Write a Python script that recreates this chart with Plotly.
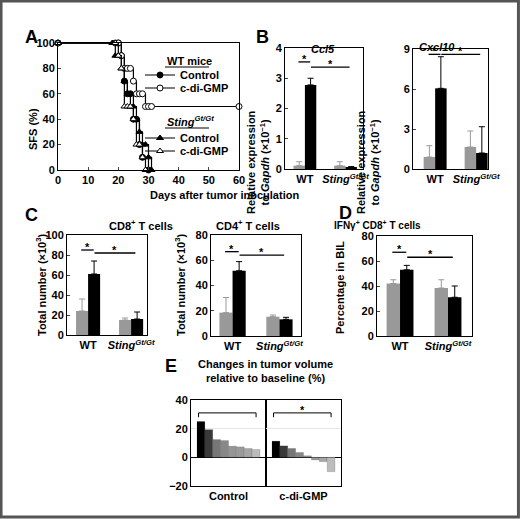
import plotly.graph_objects as go

W, H = 520, 519

# ---------------------------------------------------------------
# Data

# Panel A: survival (SFS %) per day after tumor inoculation
wt_ctrl_day = [0, 20, 21, 22, 23, 24, 25, 26, 27, 28, 30]
wt_ctrl_sfs = [100, 100, 90, 70, 60, 60, 40, 40, 20, 10, 0]
wt_cdg_day = [0, 19, 20, 21, 22, 23, 24, 25, 26, 27, 28, 29, 30, 31, 60]
wt_cdg_sfs = [100, 100, 100, 90, 80, 80, 80, 70, 60, 60, 60, 50, 50, 50, 50]
sting_ctrl_day = [0, 18, 19, 20, 21, 22, 23, 24, 25, 26, 27, 28, 29, 30, 31]
sting_ctrl_sfs = [100, 100, 90, 90, 80, 70, 60, 50, 50, 40, 30, 20, 20, 10, 0]
sting_cdg_day = [0, 19, 20, 21, 22, 23, 24, 25, 26, 27, 28, 29]
sting_cdg_sfs = [100, 100, 90, 80, 50, 50, 50, 40, 20, 20, 10, 0]

groups = ["WT", "Sting"]
group_labels = ["WT", "<i>Sting</i><sup><i>Gt/Gt</i></sup>"]

# Panel B
ccl5_ctrl = [0.11, 0.11]
ccl5_ctrl_err = [0.13, 0.13]
ccl5_cdg = [2.78, 0.055]
ccl5_cdg_err = [0.22, 0.025]
cxcl10_ctrl = [0.9, 1.65]
cxcl10_ctrl_err = [0.85, 1.2]
cxcl10_cdg = [6.05, 1.2]
cxcl10_cdg_err = [2.37, 1.97]

# Panel C
cd8_ctrl = [24, 15]
cd8_ctrl_err = [12, 2]
cd8_cdg = [61, 16]
cd8_cdg_err = [13, 7]
cd4_ctrl = [18.5, 15.3]
cd4_ctrl_err = [12, 1.3]
cd4_cdg = [51.7, 13.2]
cd4_cdg_err = [7.2, 1.6]

# Panel D
ifng_ctrl = [42, 38.4]
ifng_ctrl_err = [3, 6.6]
ifng_cdg = [53, 31]
ifng_cdg_err = [3.5, 9]

# significance bar heights (short bar, long bar) per panel
sig_ccl5 = [3.54, 3.37]
sig_cxcl10 = [8.6, 8.6]
sig_cd8 = [85, 82]
sig_cd4 = [66.8, 64]
sig_ifng = [67, 63]

# Panel E: change in tumor volume (%)
vol_ctrl = [25, 19.3, 12.4, 11.7, 7.8, 7.3, 6.2, 5.5]
vol_cdg = [11.3, 8, 6.2, 3.4, 1.1, -1.8, -3, -10]
vol_colors = ["#000000", "#3a3a3a", "#777777", "#888888",
              "#959595", "#9a9a9a", "#a6a6a6", "#bcbcbc"]
vol_bracket = 31

GRAY = "#999999"
FONT = "Liberation Sans"


def dom_x(left, right):
    return [left / W, right / W]


def dom_y(top, bottom):
    return [1 - bottom / H, 1 - top / H]


def ann(px, py, text, size=11, angle=0, **kw):
    return dict(x=px / W, y=1 - py / H, xref="paper", yref="paper",
                text=text, showarrow=False, textangle=angle,
                font=dict(size=size), **kw)


fig = go.Figure()

# ---------------------------------------------------------------
# Panel A
surv = [
    (wt_ctrl_day, wt_ctrl_sfs, "circle", "black", "Control", "legend", 75),
    (wt_cdg_day, wt_cdg_sfs, "circle", "white", "c-di-GMP", "legend2", 88),
    (sting_ctrl_day, sting_ctrl_sfs, "triangle-up", "black", "Control", "legend3", 138),
    (sting_cdg_day, sting_cdg_sfs, "triangle-up", "white", "c-di-GMP", "legend4", 151),
]
legends = {}
for days, sfs, sym, fill, name, leg, ly in surv:
    fig.add_trace(go.Scatter(
        x=days, y=sfs, mode="lines+markers", line_shape="hv",
        line=dict(color="black", width=1.2),
        marker=dict(symbol=sym, size=6, color=fill,
                    line=dict(color="black", width=1)),
        name=name, legend=leg, cliponaxis=False,
        xaxis="x", yaxis="y"))
    legends[leg] = dict(x=140 / W, y=1 - ly / H, xanchor="left", yanchor="middle",
                        bgcolor="rgba(0,0,0,0)", itemwidth=30,
                        font=dict(size=11), borderwidth=0)


# ---------------------------------------------------------------
# Bar panels B, C, D
def bar_pair(ctrl, ctrl_err, cdg, cdg_err, n):
    for vals, err, col in [(ctrl, ctrl_err, GRAY), (cdg, cdg_err, "black")]:
        fig.add_trace(go.Bar(
            x=groups, y=vals, marker=dict(color=col, line=dict(width=0)),
            error_y=dict(type="data", array=err, arrayminus=[0] * len(err),
                         symmetric=False, color=col, thickness=1, width=3),
            showlegend=False, xaxis="x%d" % n, yaxis="y%d" % n))


bar_pair(ccl5_ctrl, ccl5_ctrl_err, ccl5_cdg, ccl5_cdg_err, 2)
bar_pair(cxcl10_ctrl, cxcl10_ctrl_err, cxcl10_cdg, cxcl10_cdg_err, 3)
bar_pair(cd8_ctrl, cd8_ctrl_err, cd8_cdg, cd8_cdg_err, 4)
bar_pair(cd4_ctrl, cd4_ctrl_err, cd4_cdg, cd4_cdg_err, 5)
bar_pair(ifng_ctrl, ifng_ctrl_err, ifng_cdg, ifng_cdg_err, 6)

# Panel E
for vals, n in [(vol_ctrl, 7), (vol_cdg, 8)]:
    fig.add_trace(go.Bar(
        x=list(range(len(vals))), y=vals, width=1,
        marker=dict(color=vol_colors, line=dict(color="rgba(0,0,0,0.25)", width=0.5)),
        showlegend=False, xaxis="x%d" % n, yaxis="y%d" % n))

shapes = []
annotations = []

# significance lines + stars
for n, sig in [(2, sig_ccl5), (3, sig_cxcl10), (4, sig_cd8), (5, sig_cd4), (6, sig_ifng)]:
    for (x0, x1), yv in zip([(-0.16, 0.13), (0.15, 1.1)], sig):
        shapes.append(dict(type="line", xref="x%d" % n, yref="y%d" % n,
                           x0=x0, x1=x1, y0=yv, y1=yv,
                           line=dict(color="black", width=1.3)))
        annotations.append(dict(x=(x0 + x1) / 2, y=yv, xref="x%d" % n, yref="y%d" % n,
                                text="*", showarrow=False, yanchor="bottom",
                                yshift=-5, font=dict(size=11)))

# brackets in panel E
for n, star in [(7, False), (8, True)]:
    xr, yr = "x%d" % n, "y%d" % n
    shapes.append(dict(type="path", xref=xr, yref=yr,
                       path="M -0.3,%g L -0.3,%g L 7.0,%g L 7.0,%g" % (
                           vol_bracket - 3, vol_bracket, vol_bracket, vol_bracket - 3),
                       line=dict(color="black", width=1)))
    if star:
        annotations.append(dict(x=3.35, y=vol_bracket, xref=xr, yref=yr, text="*",
                                showarrow=False, yanchor="bottom", yshift=-5,
                                font=dict(size=11)))

# legend group headings with underline (bottom of text box just under the line)
for px, uy, w, text in [(165, 67, 44, "WT mice"),
                        (165, 128, 44, "<i>Sting</i><sup><i>Gt/Gt</i></sup>")]:
    annotations.append(ann(px, uy + 2, text, 11, xanchor="left", yanchor="bottom"))
    shapes.append(dict(type="line", xref="paper", yref="paper",
                       x0=px / W, x1=(px + w) / W, y0=1 - uy / H, y1=1 - uy / H,
                       line=dict(color="black", width=1)))

# outer frame
shapes.append(dict(type="rect", xref="paper", yref="paper", x0=0.002, x1=0.997,
                   y0=0.004, y1=0.998, line=dict(color="#555555", width=3)))

# panel letters
for px, py, t in [(23, 25, "A"), (262, 25, "B"), (23, 215, "C"),
                  (345, 213, "D"), (163, 378, "E")]:
    annotations.append(ann(px, py, t, size=18))

# titles
annotations += [
    ann(323, 41, "<i>Ccl5</i>", 11),
    ann(457, 39, "<i>Cxcl10</i>", 11),
    ann(107, 225, "CD8<sup>+</sup> T cells", 11),
    ann(248, 225, "CD4<sup>+</sup> T cells", 11),
    ann(423, 225, "IFNγ<sup>+</sup> CD8<sup>+</sup> T cells", 10),
    ann(265, 386, "Changes in tumor volume<br>relative to baseline (%)", 11),
]

# axis titles
annotations += [
    ann(148, 195, "Days after tumor inoculation", 11),
    ann(25, 106, "SFS (%)", 11, -90),
    ann(258, 108, "Relative expression<br>to <i>Gapdh</i> (×10<sup>−1</sup>)", 11, -90),
    ann(383, 108, "Relative expression<br>to <i>Gapdh</i> (×10<sup>−1</sup>)", 11, -90),
    ann(32, 285, "Total number (×10<sup>3</sup>)", 11, -90),
    ann(180, 285, "Total number (×10<sup>3</sup>)", 11, -90),
    ann(348, 288, "Percentage in BIL", 11, -90),
]

box = dict(showline=True, linecolor="black", linewidth=1, mirror=True,
           showgrid=False, zeroline=False, tickfont=dict(size=11),
           automargin=False)

layout = dict(
    template="none",
    width=W, height=H, margin=dict(l=0, r=0, t=0, b=0, pad=0, autoexpand=False),
    paper_bgcolor="white", plot_bgcolor="white",
    font=dict(family=FONT, size=11, color="black", weight="bold"),
    barmode="group", bargap=0.44, bargroupgap=0,
    shapes=shapes, annotations=annotations,
)
layout.update(legends)

# Panel A axes
layout["xaxis"] = dict(box, domain=dom_x(58, 239), range=[0, 60], dtick=10,
                       ticks="inside", ticklen=3, anchor="y")
layout["yaxis"] = dict(box, domain=dom_y(43, 170), range=[0, 100], dtick=20,
                       ticks="inside", ticklen=3, anchor="x")

bar_axes = [
    (2, (285, 363, 48, 169), [-0.49, 1.43], [0, 4], 1),
    (3, (413, 488, 49, 169), [-0.54, 1.29], [0, 9], 3),
    (4, (67, 147, 235, 335), [-0.49, 1.37], [0, 100], 20),
    (5, (211, 301, 235, 336), [-0.46, 1.46], [0, 80], 20),
    (6, (377, 472, 236, 336), [-0.48, 1.5], [0, 80], 20),
]
for n, (l, r, t, b), xr, yr, dt in bar_axes:
    layout["xaxis%d" % n] = dict(box, domain=dom_x(l, r), range=xr, type="category",
                                 tickvals=groups, ticktext=group_labels,
                                 ticks="", anchor="y%d" % n)
    layout["yaxis%d" % n] = dict(box, domain=dom_y(t, b), range=yr, dtick=dt,
                                 ticks="inside", ticklen=3, anchor="x%d" % n)

for n, (l, r), label, show_y in [(7, (191, 266), "Control", True),
                                 (8, (266, 341), "c-di-GMP", False)]:
    layout["xaxis%d" % n] = dict(box, domain=dom_x(l, r), range=[-1.26, 8.26],
                                 tickvals=[3.5], ticktext=[label], ticks="",
                                 anchor="y%d" % n)
    layout["yaxis%d" % n] = dict(box, domain=dom_y(400, 486), range=[-20, 40], dtick=20,
                                 showgrid=True, gridcolor="#e6e6e6",
                                 zeroline=True, zerolinecolor="black", zerolinewidth=1.2,
                                 showticklabels=show_y, ticks="", anchor="x%d" % n)

fig.update_layout(**layout)
fig.write_html("out.html", config={"displayModeBar": False},
               post_script="document.body.style.margin='0';"
                           "document.body.style.overflow='hidden';")
